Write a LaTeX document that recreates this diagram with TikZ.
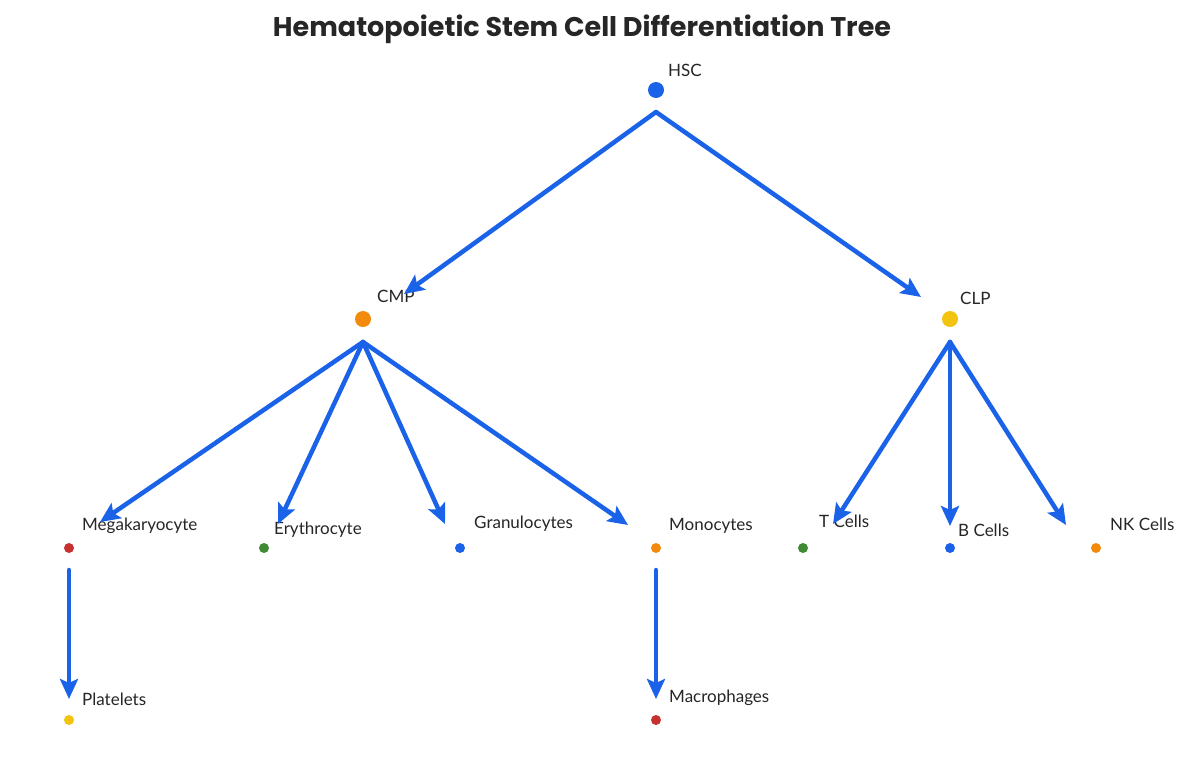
\documentclass[tikz,border=0pt]{standalone}
\usepackage{fontspec}
\setmainfont{Lato}
\newfontfamily\titlefont{Poppins}
\usetikzlibrary{arrows.meta}
\definecolor{ablue}{HTML}{1A62E8}
\definecolor{dblue}{HTML}{1A62E8}
\definecolor{dorange}{HTML}{F28A0C}
\definecolor{dyellow}{HTML}{F2C40F}
\definecolor{dred}{HTML}{C7302E}
\definecolor{dgreen}{HTML}{3E8A35}
\begin{document}
\begin{tikzpicture}[x=1pt,y=-1pt,
  big/.style={circle,fill=#1,inner sep=0pt,minimum size=16pt},
  small/.style={circle,fill=#1,inner sep=0pt,minimum size=10pt},
  lab/.style={anchor=west,font=\fontsize{17}{20}\selectfont,text=black!85,inner sep=0pt},
  arr/.style={draw=ablue,line width=4.5pt,-{Stealth[length=20pt,width=18pt,inset=4pt]}}]
\path[use as bounding box,fill=white] (0,0) rectangle (1200,769);
\node[font=\titlefont\bfseries\fontsize{27}{30}\selectfont,text=black!85] (title) at (582,29) {Hematopoietic Stem Cell Differentiation Tree};
\node[big=dblue] (hsc) at (656,90) {};
\node[big=dorange] (cmp) at (363,319) {};
\node[big=dyellow] (clp) at (950,319) {};
\node[small=dred] (meg) at (69,548) {};
\node[small=dgreen] (ery) at (264,548) {};
\node[small=dblue] (gra) at (460,548) {};
\node[small=dorange] (mon) at (656,548) {};
\node[small=dgreen] (tc) at (803,548) {};
\node[small=dblue] (bc) at (950,548) {};
\node[small=dorange] (nk) at (1096,548) {};
\node[small=dyellow] (pla) at (69,720) {};
\node[small=dred] (mac) at (656,720) {};
\node[lab] (lhsc) at (668,70) {HSC};
\node[lab] (lcmp) at (377,296) {CMP};
\node[lab] (lclp) at (960,298) {CLP};
\node[lab] (lmeg) at (82,526) {Megakaryocyte};
\node[lab] (lery) at (274,530) {Erythrocyte};
\node[lab] (lgra) at (474,524) {Granulocytes};
\node[lab] (lmon) at (669,526) {Monocytes};
\node[lab] (ltc) at (819,521) {T Cells};
\node[lab] (lbc) at (958,530) {B Cells};
\node[lab] (lnk) at (1110,524) {NK Cells};
\node[lab] (lpla) at (82,699) {Platelets};
\node[lab] (lmac) at (669,698) {Macrophages};
\coordinate (hscO) at (656,112);
\coordinate (cmpO) at (363,342);
\coordinate (clpO) at (950,342);
\coordinate (megO) at (69,570);
\coordinate (monO) at (656,570);
\coordinate (cmpI) at (404,294);
\coordinate (clpI) at (921,297);
\coordinate (megI) at (100,522);
\coordinate (eryI) at (278,524);
\coordinate (graI) at (445,524);
\coordinate (monI) at (628,525);
\coordinate (tcI) at (833,524);
\coordinate (bcI) at (950,526);
\coordinate (nkI) at (1066,525);
\coordinate (plaI) at (69,699);
\coordinate (macI) at (656,699);
\draw[arr,line cap=round] (hscO) -- (cmpI);
\draw[arr,line cap=round] (hscO) -- (clpI);
\draw[arr,line cap=round] (cmpO) -- (megI);
\draw[arr,line cap=round] (cmpO) -- (eryI);
\draw[arr,line cap=round] (cmpO) -- (graI);
\draw[arr,line cap=round] (cmpO) -- (monI);
\draw[arr,line cap=round] (clpO) -- (tcI);
\draw[arr,line cap=round] (clpO) -- (bcI);
\draw[arr,line cap=round] (clpO) -- (nkI);
\draw[arr,line cap=round] (megO) -- (plaI);
\draw[arr,line cap=round] (monO) -- (macI);
\end{tikzpicture}
\end{document}
